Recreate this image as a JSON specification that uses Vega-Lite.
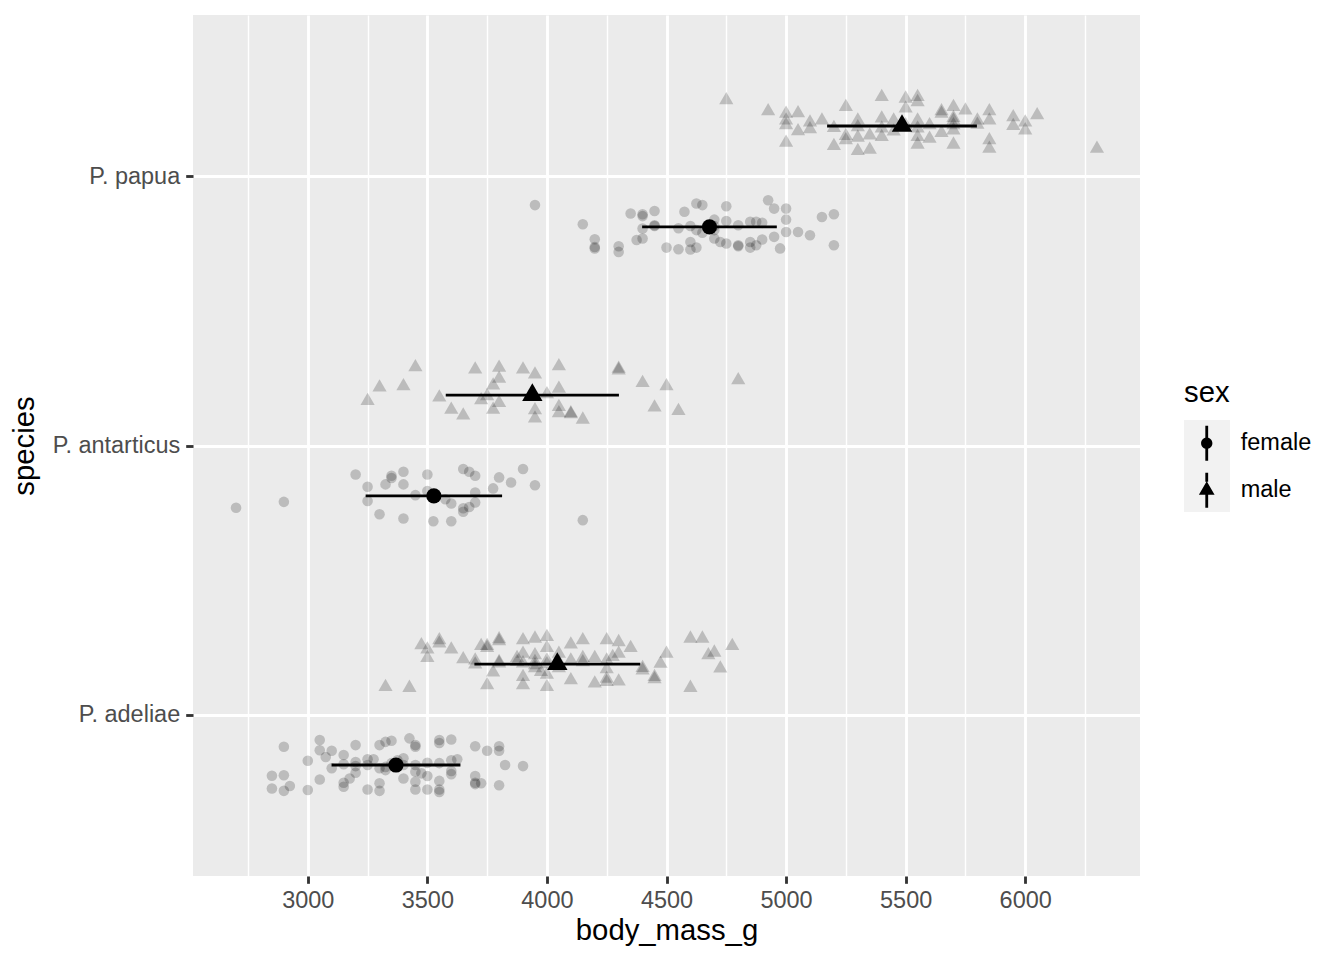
{
"$schema": "https://vega.github.io/schema/vega-lite/v6.json",
"width": 947, "height": 861,
"autosize": {"type": "none"},
"padding": {"left": 193, "top": 15, "right": 204, "bottom": 84},
"background": "white",
"config": {"view": {"stroke": null, "fill": "#EBEBEB"}, "font": "Liberation Sans"},
"datasets": {
"summ": [
{"species":"P. adeliae","sex":"female","mean":3368.8,"lo":3099.4,"hi":3638.3},
{"species":"P. adeliae","sex":"male","mean":4043.5,"lo":3696.7,"hi":4390.3},
{"species":"P. antarticus","sex":"female","mean":3527.2,"lo":3241.9,"hi":3812.5},
{"species":"P. antarticus","sex":"male","mean":3939.0,"lo":3576.9,"hi":4301.1},
{"species":"P. papua","sex":"female","mean":4679.7,"lo":4398.1,"hi":4961.3},
{"species":"P. papua","sex":"male","mean":5484.8,"lo":5171.6,"hi":5798.0}
],
"pts": [
{"species":"P. papua","sex":"male","body_mass_g":4750,"jitter":0.096},
{"species":"P. papua","sex":"male","body_mass_g":4925,"jitter":0.055},
{"species":"P. papua","sex":"male","body_mass_g":5000,"jitter":0.046},
{"species":"P. papua","sex":"male","body_mass_g":5050,"jitter":0.048},
{"species":"P. papua","sex":"male","body_mass_g":5000,"jitter":0.021},
{"species":"P. papua","sex":"male","body_mass_g":5100,"jitter":0.013},
{"species":"P. papua","sex":"male","body_mass_g":5150,"jitter":0.021},
{"species":"P. papua","sex":"male","body_mass_g":5050,"jitter":-0.019},
{"species":"P. papua","sex":"male","body_mass_g":5100,"jitter":-0.012},
{"species":"P. papua","sex":"male","body_mass_g":5000,"jitter":-0.062},
{"species":"P. papua","sex":"male","body_mass_g":5250,"jitter":0.071},
{"species":"P. papua","sex":"male","body_mass_g":5200,"jitter":-0.007},
{"species":"P. papua","sex":"male","body_mass_g":5300,"jitter":-0.004},
{"species":"P. papua","sex":"male","body_mass_g":5250,"jitter":-0.037},
{"species":"P. papua","sex":"male","body_mass_g":5250,"jitter":-0.053},
{"species":"P. papua","sex":"male","body_mass_g":5300,"jitter":-0.043},
{"species":"P. papua","sex":"male","body_mass_g":5350,"jitter":-0.035},
{"species":"P. papua","sex":"male","body_mass_g":5400,"jitter":-0.041},
{"species":"P. papua","sex":"male","body_mass_g":5400,"jitter":0.028},
{"species":"P. papua","sex":"male","body_mass_g":5400,"jitter":0.108},
{"species":"P. papua","sex":"male","body_mass_g":5450,"jitter":0.021},
{"species":"P. papua","sex":"male","body_mass_g":5200,"jitter":-0.074},
{"species":"P. papua","sex":"male","body_mass_g":5300,"jitter":-0.093},
{"species":"P. papua","sex":"male","body_mass_g":5350,"jitter":-0.088},
{"species":"P. papua","sex":"male","body_mass_g":5500,"jitter":0.102},
{"species":"P. papua","sex":"male","body_mass_g":5550,"jitter":0.108},
{"species":"P. papua","sex":"male","body_mass_g":5550,"jitter":0.089},
{"species":"P. papua","sex":"male","body_mass_g":5500,"jitter":0.065},
{"species":"P. papua","sex":"male","body_mass_g":5550,"jitter":0.021},
{"species":"P. papua","sex":"male","body_mass_g":5600,"jitter":0.003},
{"species":"P. papua","sex":"male","body_mass_g":5550,"jitter":-0.041},
{"species":"P. papua","sex":"male","body_mass_g":5550,"jitter":-0.069},
{"species":"P. papua","sex":"male","body_mass_g":5600,"jitter":-0.047},
{"species":"P. papua","sex":"male","body_mass_g":5650,"jitter":-0.026},
{"species":"P. papua","sex":"male","body_mass_g":5650,"jitter":0.055},
{"species":"P. papua","sex":"male","body_mass_g":5650,"jitter":0.046},
{"species":"P. papua","sex":"male","body_mass_g":5700,"jitter":0.071},
{"species":"P. papua","sex":"male","body_mass_g":5700,"jitter":0.030},
{"species":"P. papua","sex":"male","body_mass_g":5700,"jitter":0.021},
{"species":"P. papua","sex":"male","body_mass_g":5700,"jitter":0.003},
{"species":"P. papua","sex":"male","body_mass_g":5750,"jitter":0.058},
{"species":"P. papua","sex":"male","body_mass_g":5700,"jitter":-0.069},
{"species":"P. papua","sex":"male","body_mass_g":5800,"jitter":0.021},
{"species":"P. papua","sex":"male","body_mass_g":5800,"jitter":0.005},
{"species":"P. papua","sex":"male","body_mass_g":5850,"jitter":0.055},
{"species":"P. papua","sex":"male","body_mass_g":5850,"jitter":-0.053},
{"species":"P. papua","sex":"male","body_mass_g":5850,"jitter":-0.084},
{"species":"P. papua","sex":"male","body_mass_g":5950,"jitter":0.033},
{"species":"P. papua","sex":"male","body_mass_g":5950,"jitter":0.000},
{"species":"P. papua","sex":"male","body_mass_g":6000,"jitter":0.013},
{"species":"P. papua","sex":"male","body_mass_g":6000,"jitter":-0.016},
{"species":"P. papua","sex":"male","body_mass_g":6050,"jitter":0.040},
{"species":"P. papua","sex":"male","body_mass_g":6300,"jitter":-0.084},
{"species":"P. papua","sex":"male","body_mass_g":5500,"jitter":0.003},
{"species":"P. papua","sex":"male","body_mass_g":5550,"jitter":-0.009},
{"species":"P. papua","sex":"male","body_mass_g":5400,"jitter":-0.009},
{"species":"P. papua","sex":"male","body_mass_g":5450,"jitter":-0.020},
{"species":"P. papua","sex":"male","body_mass_g":5300,"jitter":0.021},
{"species":"P. papua","sex":"male","body_mass_g":5700,"jitter":-0.016},
{"species":"P. papua","sex":"male","body_mass_g":5000,"jitter":0.003},
{"species":"P. papua","sex":"male","body_mass_g":5850,"jitter":0.021},
{"species":"P. papua","sex":"female","body_mass_g":4150,"jitter":0.010},
{"species":"P. papua","sex":"female","body_mass_g":4200,"jitter":-0.046},
{"species":"P. papua","sex":"female","body_mass_g":4200,"jitter":-0.080},
{"species":"P. papua","sex":"female","body_mass_g":4200,"jitter":-0.075},
{"species":"P. papua","sex":"female","body_mass_g":4300,"jitter":-0.072},
{"species":"P. papua","sex":"female","body_mass_g":4300,"jitter":-0.093},
{"species":"P. papua","sex":"female","body_mass_g":4350,"jitter":0.050},
{"species":"P. papua","sex":"female","body_mass_g":4400,"jitter":0.047},
{"species":"P. papua","sex":"female","body_mass_g":4400,"jitter":0.040},
{"species":"P. papua","sex":"female","body_mass_g":4450,"jitter":0.059},
{"species":"P. papua","sex":"female","body_mass_g":4400,"jitter":-0.006},
{"species":"P. papua","sex":"female","body_mass_g":4450,"jitter":0.006},
{"species":"P. papua","sex":"female","body_mass_g":4375,"jitter":-0.049},
{"species":"P. papua","sex":"female","body_mass_g":4400,"jitter":-0.043},
{"species":"P. papua","sex":"female","body_mass_g":4500,"jitter":-0.077},
{"species":"P. papua","sex":"female","body_mass_g":4550,"jitter":-0.083},
{"species":"P. papua","sex":"female","body_mass_g":4575,"jitter":0.056},
{"species":"P. papua","sex":"female","body_mass_g":4600,"jitter":-0.056},
{"species":"P. papua","sex":"female","body_mass_g":4600,"jitter":-0.084},
{"species":"P. papua","sex":"female","body_mass_g":4625,"jitter":-0.077},
{"species":"P. papua","sex":"female","body_mass_g":4625,"jitter":0.087},
{"species":"P. papua","sex":"female","body_mass_g":4650,"jitter":0.081},
{"species":"P. papua","sex":"female","body_mass_g":4650,"jitter":-0.022},
{"species":"P. papua","sex":"female","body_mass_g":4700,"jitter":0.027},
{"species":"P. papua","sex":"female","body_mass_g":4700,"jitter":-0.043},
{"species":"P. papua","sex":"female","body_mass_g":4725,"jitter":-0.056},
{"species":"P. papua","sex":"female","body_mass_g":4750,"jitter":0.077},
{"species":"P. papua","sex":"female","body_mass_g":4750,"jitter":0.022},
{"species":"P. papua","sex":"female","body_mass_g":4750,"jitter":-0.062},
{"species":"P. papua","sex":"female","body_mass_g":4800,"jitter":-0.072},
{"species":"P. papua","sex":"female","body_mass_g":4850,"jitter":0.019},
{"species":"P. papua","sex":"female","body_mass_g":4850,"jitter":-0.056},
{"species":"P. papua","sex":"female","body_mass_g":4850,"jitter":-0.077},
{"species":"P. papua","sex":"female","body_mass_g":4875,"jitter":0.019},
{"species":"P. papua","sex":"female","body_mass_g":4875,"jitter":-0.068},
{"species":"P. papua","sex":"female","body_mass_g":4900,"jitter":0.015},
{"species":"P. papua","sex":"female","body_mass_g":4900,"jitter":-0.047},
{"species":"P. papua","sex":"female","body_mass_g":4925,"jitter":0.099},
{"species":"P. papua","sex":"female","body_mass_g":4950,"jitter":0.068},
{"species":"P. papua","sex":"female","body_mass_g":4950,"jitter":-0.037},
{"species":"P. papua","sex":"female","body_mass_g":4975,"jitter":-0.080},
{"species":"P. papua","sex":"female","body_mass_g":5000,"jitter":0.068},
{"species":"P. papua","sex":"female","body_mass_g":5000,"jitter":0.027},
{"species":"P. papua","sex":"female","body_mass_g":5000,"jitter":-0.019},
{"species":"P. papua","sex":"female","body_mass_g":5050,"jitter":-0.019},
{"species":"P. papua","sex":"female","body_mass_g":5100,"jitter":-0.031},
{"species":"P. papua","sex":"female","body_mass_g":5150,"jitter":0.037},
{"species":"P. papua","sex":"female","body_mass_g":5200,"jitter":0.047},
{"species":"P. papua","sex":"female","body_mass_g":5200,"jitter":-0.068},
{"species":"P. papua","sex":"female","body_mass_g":4800,"jitter":-0.068},
{"species":"P. papua","sex":"female","body_mass_g":4700,"jitter":0.003},
{"species":"P. papua","sex":"female","body_mass_g":3950,"jitter":0.081},
{"species":"P. papua","sex":"female","body_mass_g":4450,"jitter":0.003},
{"species":"P. papua","sex":"female","body_mass_g":4600,"jitter":0.003},
{"species":"P. papua","sex":"female","body_mass_g":4625,"jitter":-0.012},
{"species":"P. papua","sex":"female","body_mass_g":4550,"jitter":-0.005},
{"species":"P. papua","sex":"female","body_mass_g":4800,"jitter":0.006},
{"species":"P. papua","sex":"female","body_mass_g":4700,"jitter":-0.012},
{"species":"P. antarticus","sex":"male","body_mass_g":3250,"jitter":-0.022},
{"species":"P. antarticus","sex":"male","body_mass_g":3300,"jitter":0.028},
{"species":"P. antarticus","sex":"male","body_mass_g":3400,"jitter":0.033},
{"species":"P. antarticus","sex":"male","body_mass_g":3450,"jitter":0.104},
{"species":"P. antarticus","sex":"male","body_mass_g":3550,"jitter":-0.009},
{"species":"P. antarticus","sex":"male","body_mass_g":3600,"jitter":-0.054},
{"species":"P. antarticus","sex":"male","body_mass_g":3650,"jitter":-0.076},
{"species":"P. antarticus","sex":"male","body_mass_g":3700,"jitter":0.095},
{"species":"P. antarticus","sex":"male","body_mass_g":3725,"jitter":-0.019},
{"species":"P. antarticus","sex":"male","body_mass_g":3750,"jitter":-0.004},
{"species":"P. antarticus","sex":"male","body_mass_g":3775,"jitter":0.036},
{"species":"P. antarticus","sex":"male","body_mass_g":3800,"jitter":0.102},
{"species":"P. antarticus","sex":"male","body_mass_g":3800,"jitter":0.061},
{"species":"P. antarticus","sex":"male","body_mass_g":3800,"jitter":-0.029},
{"species":"P. antarticus","sex":"male","body_mass_g":3775,"jitter":-0.054},
{"species":"P. antarticus","sex":"male","body_mass_g":3900,"jitter":0.095},
{"species":"P. antarticus","sex":"male","body_mass_g":3950,"jitter":0.077},
{"species":"P. antarticus","sex":"male","body_mass_g":3950,"jitter":-0.056},
{"species":"P. antarticus","sex":"male","body_mass_g":3950,"jitter":-0.087},
{"species":"P. antarticus","sex":"male","body_mass_g":4000,"jitter":0.003},
{"species":"P. antarticus","sex":"male","body_mass_g":4050,"jitter":0.107},
{"species":"P. antarticus","sex":"male","body_mass_g":4050,"jitter":0.024},
{"species":"P. antarticus","sex":"male","body_mass_g":4050,"jitter":-0.044},
{"species":"P. antarticus","sex":"male","body_mass_g":4050,"jitter":-0.067},
{"species":"P. antarticus","sex":"male","body_mass_g":4100,"jitter":-0.071},
{"species":"P. antarticus","sex":"male","body_mass_g":4100,"jitter":-0.067},
{"species":"P. antarticus","sex":"male","body_mass_g":4150,"jitter":-0.091},
{"species":"P. antarticus","sex":"male","body_mass_g":4300,"jitter":0.098},
{"species":"P. antarticus","sex":"male","body_mass_g":4300,"jitter":0.092},
{"species":"P. antarticus","sex":"male","body_mass_g":4400,"jitter":0.045},
{"species":"P. antarticus","sex":"male","body_mass_g":4500,"jitter":0.033},
{"species":"P. antarticus","sex":"male","body_mass_g":4450,"jitter":-0.046},
{"species":"P. antarticus","sex":"male","body_mass_g":4550,"jitter":-0.059},
{"species":"P. antarticus","sex":"male","body_mass_g":4800,"jitter":0.055},
{"species":"P. antarticus","sex":"female","body_mass_g":2700,"jitter":-0.044},
{"species":"P. antarticus","sex":"female","body_mass_g":2900,"jitter":-0.022},
{"species":"P. antarticus","sex":"female","body_mass_g":3200,"jitter":0.080},
{"species":"P. antarticus","sex":"female","body_mass_g":3250,"jitter":0.034},
{"species":"P. antarticus","sex":"female","body_mass_g":3250,"jitter":-0.019},
{"species":"P. antarticus","sex":"female","body_mass_g":3300,"jitter":-0.068},
{"species":"P. antarticus","sex":"female","body_mass_g":3325,"jitter":0.043},
{"species":"P. antarticus","sex":"female","body_mass_g":3350,"jitter":0.067},
{"species":"P. antarticus","sex":"female","body_mass_g":3350,"jitter":0.075},
{"species":"P. antarticus","sex":"female","body_mass_g":3400,"jitter":0.090},
{"species":"P. antarticus","sex":"female","body_mass_g":3400,"jitter":0.043},
{"species":"P. antarticus","sex":"female","body_mass_g":3400,"jitter":-0.084},
{"species":"P. antarticus","sex":"female","body_mass_g":3450,"jitter":0.003},
{"species":"P. antarticus","sex":"female","body_mass_g":3500,"jitter":0.080},
{"species":"P. antarticus","sex":"female","body_mass_g":3500,"jitter":0.018},
{"species":"P. antarticus","sex":"female","body_mass_g":3525,"jitter":-0.094},
{"species":"P. antarticus","sex":"female","body_mass_g":3575,"jitter":-0.012},
{"species":"P. antarticus","sex":"female","body_mass_g":3600,"jitter":-0.028},
{"species":"P. antarticus","sex":"female","body_mass_g":3600,"jitter":-0.094},
{"species":"P. antarticus","sex":"female","body_mass_g":3650,"jitter":0.100},
{"species":"P. antarticus","sex":"female","body_mass_g":3675,"jitter":0.090},
{"species":"P. antarticus","sex":"female","body_mass_g":3700,"jitter":0.075},
{"species":"P. antarticus","sex":"female","body_mass_g":3700,"jitter":0.013},
{"species":"P. antarticus","sex":"female","body_mass_g":3700,"jitter":-0.024},
{"species":"P. antarticus","sex":"female","body_mass_g":3650,"jitter":-0.046},
{"species":"P. antarticus","sex":"female","body_mass_g":3650,"jitter":-0.059},
{"species":"P. antarticus","sex":"female","body_mass_g":3675,"jitter":-0.041},
{"species":"P. antarticus","sex":"female","body_mass_g":3775,"jitter":0.028},
{"species":"P. antarticus","sex":"female","body_mass_g":3800,"jitter":0.069},
{"species":"P. antarticus","sex":"female","body_mass_g":3850,"jitter":0.050},
{"species":"P. antarticus","sex":"female","body_mass_g":3900,"jitter":0.100},
{"species":"P. antarticus","sex":"female","body_mass_g":3950,"jitter":0.040},
{"species":"P. antarticus","sex":"female","body_mass_g":4150,"jitter":-0.090},
{"species":"P. antarticus","sex":"female","body_mass_g":3525,"jitter":0.003},
{"species":"P. adeliae","sex":"male","body_mass_g":3325,"jitter":-0.085},
{"species":"P. adeliae","sex":"male","body_mass_g":3425,"jitter":-0.088},
{"species":"P. adeliae","sex":"male","body_mass_g":3475,"jitter":0.070},
{"species":"P. adeliae","sex":"male","body_mass_g":3500,"jitter":0.055},
{"species":"P. adeliae","sex":"male","body_mass_g":3500,"jitter":0.023},
{"species":"P. adeliae","sex":"male","body_mass_g":3550,"jitter":0.089},
{"species":"P. adeliae","sex":"male","body_mass_g":3550,"jitter":0.077},
{"species":"P. adeliae","sex":"male","body_mass_g":3600,"jitter":0.055},
{"species":"P. adeliae","sex":"male","body_mass_g":3650,"jitter":0.018},
{"species":"P. adeliae","sex":"male","body_mass_g":3700,"jitter":-0.001},
{"species":"P. adeliae","sex":"male","body_mass_g":3725,"jitter":0.068},
{"species":"P. adeliae","sex":"male","body_mass_g":3750,"jitter":0.060},
{"species":"P. adeliae","sex":"male","body_mass_g":3750,"jitter":0.068},
{"species":"P. adeliae","sex":"male","body_mass_g":3775,"jitter":-0.031},
{"species":"P. adeliae","sex":"male","body_mass_g":3750,"jitter":-0.078},
{"species":"P. adeliae","sex":"male","body_mass_g":3800,"jitter":0.093},
{"species":"P. adeliae","sex":"male","body_mass_g":3800,"jitter":0.085},
{"species":"P. adeliae","sex":"male","body_mass_g":3800,"jitter":0.008},
{"species":"P. adeliae","sex":"male","body_mass_g":3875,"jitter":0.023},
{"species":"P. adeliae","sex":"male","body_mass_g":3900,"jitter":0.089},
{"species":"P. adeliae","sex":"male","body_mass_g":3900,"jitter":0.039},
{"species":"P. adeliae","sex":"male","body_mass_g":3900,"jitter":-0.048},
{"species":"P. adeliae","sex":"male","body_mass_g":3900,"jitter":-0.078},
{"species":"P. adeliae","sex":"male","body_mass_g":3950,"jitter":0.095},
{"species":"P. adeliae","sex":"male","body_mass_g":3950,"jitter":0.033},
{"species":"P. adeliae","sex":"male","body_mass_g":3950,"jitter":0.008},
{"species":"P. adeliae","sex":"male","body_mass_g":3975,"jitter":-0.029},
{"species":"P. adeliae","sex":"male","body_mass_g":4000,"jitter":0.101},
{"species":"P. adeliae","sex":"male","body_mass_g":4000,"jitter":0.060},
{"species":"P. adeliae","sex":"male","body_mass_g":4000,"jitter":-0.039},
{"species":"P. adeliae","sex":"male","body_mass_g":4000,"jitter":-0.085},
{"species":"P. adeliae","sex":"male","body_mass_g":4050,"jitter":0.039},
{"species":"P. adeliae","sex":"male","body_mass_g":4100,"jitter":0.073},
{"species":"P. adeliae","sex":"male","body_mass_g":4100,"jitter":-0.060},
{"species":"P. adeliae","sex":"male","body_mass_g":4150,"jitter":0.089},
{"species":"P. adeliae","sex":"male","body_mass_g":4150,"jitter":0.023},
{"species":"P. adeliae","sex":"male","body_mass_g":4200,"jitter":0.023},
{"species":"P. adeliae","sex":"male","body_mass_g":4200,"jitter":-0.072},
{"species":"P. adeliae","sex":"male","body_mass_g":4250,"jitter":0.089},
{"species":"P. adeliae","sex":"male","body_mass_g":4250,"jitter":-0.019},
{"species":"P. adeliae","sex":"male","body_mass_g":4250,"jitter":-0.054},
{"species":"P. adeliae","sex":"male","body_mass_g":4250,"jitter":-0.066},
{"species":"P. adeliae","sex":"male","body_mass_g":4300,"jitter":0.082},
{"species":"P. adeliae","sex":"male","body_mass_g":4300,"jitter":0.039},
{"species":"P. adeliae","sex":"male","body_mass_g":4275,"jitter":0.027},
{"species":"P. adeliae","sex":"male","body_mass_g":4300,"jitter":-0.064},
{"species":"P. adeliae","sex":"male","body_mass_g":4350,"jitter":0.060},
{"species":"P. adeliae","sex":"male","body_mass_g":4400,"jitter":-0.014},
{"species":"P. adeliae","sex":"male","body_mass_g":4400,"jitter":-0.023},
{"species":"P. adeliae","sex":"male","body_mass_g":4450,"jitter":-0.048},
{"species":"P. adeliae","sex":"male","body_mass_g":4450,"jitter":-0.056},
{"species":"P. adeliae","sex":"male","body_mass_g":4475,"jitter":0.002},
{"species":"P. adeliae","sex":"male","body_mass_g":4500,"jitter":0.039},
{"species":"P. adeliae","sex":"male","body_mass_g":4600,"jitter":0.095},
{"species":"P. adeliae","sex":"male","body_mass_g":4650,"jitter":0.095},
{"species":"P. adeliae","sex":"male","body_mass_g":4600,"jitter":-0.088},
{"species":"P. adeliae","sex":"male","body_mass_g":4675,"jitter":0.033},
{"species":"P. adeliae","sex":"male","body_mass_g":4700,"jitter":0.043},
{"species":"P. adeliae","sex":"male","body_mass_g":4725,"jitter":-0.016},
{"species":"P. adeliae","sex":"male","body_mass_g":4775,"jitter":0.068},
{"species":"P. adeliae","sex":"male","body_mass_g":3875,"jitter":0.008},
{"species":"P. adeliae","sex":"male","body_mass_g":3950,"jitter":-0.004},
{"species":"P. adeliae","sex":"male","body_mass_g":4050,"jitter":0.007},
{"species":"P. adeliae","sex":"male","body_mass_g":4000,"jitter":0.014},
{"species":"P. adeliae","sex":"male","body_mass_g":4050,"jitter":-0.015},
{"species":"P. adeliae","sex":"male","body_mass_g":3700,"jitter":0.014},
{"species":"P. adeliae","sex":"male","body_mass_g":4150,"jitter":0.007},
{"species":"P. adeliae","sex":"male","body_mass_g":3800,"jitter":0.003},
{"species":"P. adeliae","sex":"male","body_mass_g":4100,"jitter":0.014},
{"species":"P. adeliae","sex":"male","body_mass_g":3900,"jitter":0.003},
{"species":"P. adeliae","sex":"male","body_mass_g":4250,"jitter":0.014},
{"species":"P. adeliae","sex":"male","body_mass_g":3950,"jitter":-0.015},
{"species":"P. adeliae","sex":"male","body_mass_g":4000,"jitter":0.000},
{"species":"P. adeliae","sex":"female","body_mass_g":2900,"jitter":0.068},
{"species":"P. adeliae","sex":"female","body_mass_g":2850,"jitter":-0.040},
{"species":"P. adeliae","sex":"female","body_mass_g":2900,"jitter":-0.038},
{"species":"P. adeliae","sex":"female","body_mass_g":2850,"jitter":-0.087},
{"species":"P. adeliae","sex":"female","body_mass_g":2900,"jitter":-0.096},
{"species":"P. adeliae","sex":"female","body_mass_g":2925,"jitter":-0.078},
{"species":"P. adeliae","sex":"female","body_mass_g":3000,"jitter":0.016},
{"species":"P. adeliae","sex":"female","body_mass_g":3000,"jitter":-0.093},
{"species":"P. adeliae","sex":"female","body_mass_g":3050,"jitter":0.093},
{"species":"P. adeliae","sex":"female","body_mass_g":3050,"jitter":0.055},
{"species":"P. adeliae","sex":"female","body_mass_g":3050,"jitter":-0.054},
{"species":"P. adeliae","sex":"female","body_mass_g":3075,"jitter":0.030},
{"species":"P. adeliae","sex":"female","body_mass_g":3100,"jitter":0.053},
{"species":"P. adeliae","sex":"female","body_mass_g":3150,"jitter":0.037},
{"species":"P. adeliae","sex":"female","body_mass_g":3150,"jitter":-0.066},
{"species":"P. adeliae","sex":"female","body_mass_g":3150,"jitter":-0.081},
{"species":"P. adeliae","sex":"female","body_mass_g":3175,"jitter":-0.050},
{"species":"P. adeliae","sex":"female","body_mass_g":3200,"jitter":0.074},
{"species":"P. adeliae","sex":"female","body_mass_g":3200,"jitter":-0.004},
{"species":"P. adeliae","sex":"female","body_mass_g":3200,"jitter":-0.029},
{"species":"P. adeliae","sex":"female","body_mass_g":3250,"jitter":0.021},
{"species":"P. adeliae","sex":"female","body_mass_g":3250,"jitter":-0.091},
{"species":"P. adeliae","sex":"female","body_mass_g":3275,"jitter":0.021},
{"species":"P. adeliae","sex":"female","body_mass_g":3300,"jitter":0.074},
{"species":"P. adeliae","sex":"female","body_mass_g":3325,"jitter":0.086},
{"species":"P. adeliae","sex":"female","body_mass_g":3350,"jitter":0.090},
{"species":"P. adeliae","sex":"female","body_mass_g":3300,"jitter":-0.068},
{"species":"P. adeliae","sex":"female","body_mass_g":3300,"jitter":-0.096},
{"species":"P. adeliae","sex":"female","body_mass_g":3325,"jitter":-0.007},
{"species":"P. adeliae","sex":"female","body_mass_g":3400,"jitter":0.025},
{"species":"P. adeliae","sex":"female","body_mass_g":3400,"jitter":-0.050},
{"species":"P. adeliae","sex":"female","body_mass_g":3425,"jitter":0.099},
{"species":"P. adeliae","sex":"female","body_mass_g":3450,"jitter":0.074},
{"species":"P. adeliae","sex":"female","body_mass_g":3450,"jitter":0.068},
{"species":"P. adeliae","sex":"female","body_mass_g":3450,"jitter":-0.025},
{"species":"P. adeliae","sex":"female","body_mass_g":3450,"jitter":-0.062},
{"species":"P. adeliae","sex":"female","body_mass_g":3450,"jitter":-0.091},
{"species":"P. adeliae","sex":"female","body_mass_g":3475,"jitter":-0.031},
{"species":"P. adeliae","sex":"female","body_mass_g":3500,"jitter":0.008},
{"species":"P. adeliae","sex":"female","body_mass_g":3500,"jitter":-0.041},
{"species":"P. adeliae","sex":"female","body_mass_g":3500,"jitter":-0.091},
{"species":"P. adeliae","sex":"female","body_mass_g":3550,"jitter":0.093},
{"species":"P. adeliae","sex":"female","body_mass_g":3550,"jitter":0.082},
{"species":"P. adeliae","sex":"female","body_mass_g":3600,"jitter":0.095},
{"species":"P. adeliae","sex":"female","body_mass_g":3550,"jitter":-0.059},
{"species":"P. adeliae","sex":"female","body_mass_g":3550,"jitter":-0.091},
{"species":"P. adeliae","sex":"female","body_mass_g":3550,"jitter":-0.100},
{"species":"P. adeliae","sex":"female","body_mass_g":3600,"jitter":-0.022},
{"species":"P. adeliae","sex":"female","body_mass_g":3600,"jitter":-0.034},
{"species":"P. adeliae","sex":"female","body_mass_g":3625,"jitter":0.021},
{"species":"P. adeliae","sex":"female","body_mass_g":3700,"jitter":0.070},
{"species":"P. adeliae","sex":"female","body_mass_g":3700,"jitter":-0.041},
{"species":"P. adeliae","sex":"female","body_mass_g":3700,"jitter":-0.066},
{"species":"P. adeliae","sex":"female","body_mass_g":3700,"jitter":-0.071},
{"species":"P. adeliae","sex":"female","body_mass_g":3725,"jitter":-0.068},
{"species":"P. adeliae","sex":"female","body_mass_g":3750,"jitter":0.053},
{"species":"P. adeliae","sex":"female","body_mass_g":3800,"jitter":0.070},
{"species":"P. adeliae","sex":"female","body_mass_g":3800,"jitter":0.053},
{"species":"P. adeliae","sex":"female","body_mass_g":3800,"jitter":-0.075},
{"species":"P. adeliae","sex":"female","body_mass_g":3825,"jitter":0.000},
{"species":"P. adeliae","sex":"female","body_mass_g":3900,"jitter":-0.004},
{"species":"P. adeliae","sex":"female","body_mass_g":3350,"jitter":0.007},
{"species":"P. adeliae","sex":"female","body_mass_g":3400,"jitter":0.000},
{"species":"P. adeliae","sex":"female","body_mass_g":3300,"jitter":-0.012},
{"species":"P. adeliae","sex":"female","body_mass_g":3325,"jitter":-0.019},
{"species":"P. adeliae","sex":"female","body_mass_g":3375,"jitter":0.018},
{"species":"P. adeliae","sex":"female","body_mass_g":3450,"jitter":0.000},
{"species":"P. adeliae","sex":"female","body_mass_g":3200,"jitter":0.011},
{"species":"P. adeliae","sex":"female","body_mass_g":3150,"jitter":0.003},
{"species":"P. adeliae","sex":"female","body_mass_g":3550,"jitter":0.007},
{"species":"P. adeliae","sex":"female","body_mass_g":3600,"jitter":0.018},
{"species":"P. adeliae","sex":"female","body_mass_g":3250,"jitter":0.000},
{"species":"P. adeliae","sex":"female","body_mass_g":3100,"jitter":-0.012}
]
},
"resolve": {"scale": {"shape": "independent"}},
"layer": [
{
"data": {"name": "pts"},
"transform": [{"calculate": "(datum.species === 'P. adeliae' ? 1 : datum.species === 'P. antarticus' ? 2 : 3) + (datum.sex === 'male' ? 0.1875 : -0.1875) + datum.jitter", "as": "pos"}],
"mark": {"type": "point", "filled": true, "color": "black", "opacity": 0.2, "strokeWidth": 0, "size": 112},
"encoding": {
"x": {"field": "body_mass_g", "type": "quantitative", "scale": {"domain": [2520, 6480], "nice": false, "zero": false},
"axis": {"title": "body_mass_g", "values": [2750,3000,3250,3500,3750,4000,4250,4500,4750,5000,5250,5500,5750,6000,6250], "format": "d",
"labelExpr": "datum.value % 500 === 0 ? datum.label : ''", "labelFontSize": 23.47, "labelColor": "#4D4D4D", "labelPadding": 5, "labelFlush": false, "labelOverlap": false,
"tickSize": 7.3, "tickWidth": 2.85, "tickColor": "#333333", "tickOpacity": {"condition": {"test": "datum.value % 500 === 0", "value": 1}, "value": 0},
"domain": false, "grid": true, "gridColor": "white", "gridWidth": {"condition": {"test": "datum.value % 500 === 0", "value": 2.85}, "value": 1.42},
"titleFontSize": 29.3, "titleFontWeight": "normal", "titleColor": "black", "titleBaseline": "alphabetic", "titleY": 63.5, "titleX": 473.5}},
"y": {"field": "pos", "type": "quantitative", "scale": {"domain": [0.4, 3.6], "nice": false, "zero": false},
"axis": {"title": "species", "values": [1, 2, 3], "labelExpr": "datum.value == 1 ? 'P. adeliae' : datum.value == 2 ? 'P. antarticus' : 'P. papua'",
"labelFontSize": 23.47, "labelColor": "#4D4D4D", "labelPadding": 6, "tickSize": 7.3, "tickWidth": 2.85, "tickColor": "#333333",
"domain": false, "grid": true, "gridColor": "white", "gridWidth": 2.85,
"titleFontSize": 29.3, "titleFontWeight": "normal", "titleColor": "black", "titleBaseline": "alphabetic", "titleAngle": 270, "titleX": -159.5, "titleY": 430.5, "titleAlign": "center"}},
"shape": {"field": "sex", "type": "nominal", "scale": {"domain": ["female", "male"], "range": ["circle", "M0,-1.547L1.34,0.774L-1.34,0.774Z"]}, "legend": null}
}
},
{
"data": {"name": "summ"},
"transform": [{"calculate": "(datum.species === 'P. adeliae' ? 1 : datum.species === 'P. antarticus' ? 2 : 3) + (datum.sex === 'male' ? 0.1875 : -0.1875)", "as": "pos"}],
"mark": {"type": "rule", "color": "black", "strokeWidth": 2.85},
"encoding": {
"x": {"field": "lo", "type": "quantitative"},
"x2": {"field": "hi"},
"y": {"field": "pos", "type": "quantitative"}
}
},
{
"data": {"name": "summ"},
"transform": [{"calculate": "(datum.species === 'P. adeliae' ? 1 : datum.species === 'P. antarticus' ? 2 : 3) + (datum.sex === 'male' ? 0.1875 : -0.1875)", "as": "pos"}],
"mark": {"type": "point", "filled": true, "color": "black", "opacity": 1, "strokeWidth": 0, "size": 231},
"encoding": {
"x": {"field": "mean", "type": "quantitative"},
"y": {"field": "pos", "type": "quantitative"},
"shape": {"field": "sex", "type": "nominal", "scale": {"domain": ["female", "male"], "range": ["circle", "M0,-1.547L1.34,0.774L-1.34,0.774Z"]}, "legend": null}
}
},
{
"data": {"name": "summ"},
"transform": [{"calculate": "(datum.species === 'P. adeliae' ? 1 : datum.species === 'P. antarticus' ? 2 : 3) + (datum.sex === 'male' ? 0.1875 : -0.1875)", "as": "pos"}],
"mark": {"type": "point", "filled": true, "shape": "square", "color": "black", "opacity": 0},
"encoding": {
"x": {"field": "mean", "type": "quantitative"},
"y": {"field": "pos", "type": "quantitative"},
"color": {"field": "sex", "type": "nominal", "scale": {"range": ["#F2F2F2", "#F2F2F2"]},
"legend": {"title": "sex", "orient": "none", "legendX": 991, "legendY": 364, "zindex": 0, "padding": 0,
"symbolType": "square", "symbolSize": 2116, "symbolStrokeWidth": 0, "symbolOpacity": 1, "symbolOffset": 0, "rowPadding": 0,
"labelExpr": "''", "labelFontSize": 23.47, "labelOffset": 0,
"titleFontSize": 29.3, "titleFontWeight": "normal", "titleColor": "black", "titlePadding": 11.7, "titleFont": "Liberation Sans"}}
}
},
{
"data": {"name": "summ"},
"transform": [{"calculate": "(datum.species === 'P. adeliae' ? 1 : datum.species === 'P. antarticus' ? 2 : 3) + (datum.sex === 'male' ? 0.1875 : -0.1875)", "as": "pos"}],
"mark": {"type": "point", "filled": true, "color": "black", "opacity": 0},
"encoding": {
"x": {"field": "mean", "type": "quantitative"},
"y": {"field": "pos", "type": "quantitative"},
"shape": {"field": "sex", "type": "nominal", "scale": {"domain": ["female", "male"], "range": [
"M-1,0A1,1 0 1,1 1,0A1,1 0 1,1 -1,0Z M-0.25,-3.1L0.25,-3.1L0.25,-0.96L-0.25,-0.96Z M-0.25,0.96L0.25,0.96L0.25,3.1L-0.25,3.1Z",
"M0,-1.603L1.388,0.801L-1.388,0.801Z M-0.25,-3.1L0.25,-3.1L0.25,-1.5L-0.25,-1.5Z M-0.25,0.8L0.25,0.8L0.25,3.1L-0.25,3.1Z"]},
"legend": {"title": null, "orient": "none", "legendX": 1002, "legendY": 416.5, "zindex": 1, "padding": 0,
"symbolSize": 128, "symbolStrokeWidth": 0, "symbolOpacity": 1, "symbolFillColor": "black", "symbolOffset": 0, "rowPadding": 11,
"labelFontSize": 23.47, "labelColor": "black", "labelOffset": 22.3, "labelFont": "Liberation Sans"}}
}
}
]
}
